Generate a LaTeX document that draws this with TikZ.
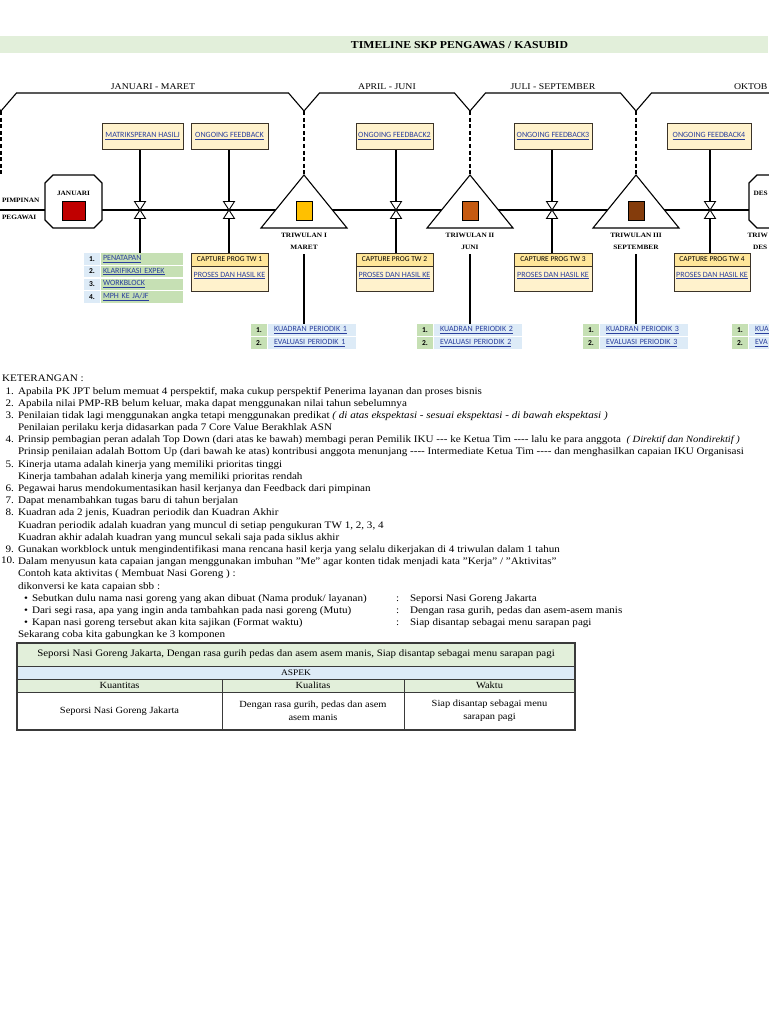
\documentclass[tikz,border=0pt]{standalone}
\usepackage{fontspec}
\setmainfont{Liberation Serif}[FakeStretch=1.11]
\newfontfamily\boxfont{Carlito}
\pgfdeclarelayer{bg}
\pgfdeclarelayer{lines}
\pgfsetlayers{bg,lines,main}
\definecolor{titlegreen}{HTML}{E2EFDA}
\definecolor{boxfill}{HTML}{FFF2CC}
\definecolor{boxhead}{HTML}{FFE699}
\definecolor{linkblue}{HTML}{2A3F9D}
\definecolor{cellgreen}{HTML}{C6E0B4}
\definecolor{cellblue}{HTML}{DDEBF7}
\definecolor{twone}{HTML}{FFC000}
\definecolor{twtwo}{HTML}{C55A11}
\definecolor{twthree}{HTML}{843C0C}
\definecolor{janred}{HTML}{C00000}
\definecolor{gridgray}{HTML}{3A3A3A}
\definecolor{boxline}{HTML}{3B3328}
\newcommand\lnk[1]{\textcolor{linkblue}{\underline{#1}}}
\begin{document}
\begin{tikzpicture}[x=1pt,y=-1pt,
  every node/.style={inner sep=0pt,outer sep=0pt},
  periodlbl/.style={anchor=base, font=\fontsize{8.8}{10}\selectfont},
  twlbl/.style={anchor=base, font=\bfseries\fontsize{6.6}{8}\selectfont},
  bracket/.style={line width=1.1pt, line join=miter},
  mainline/.style={line width=1.4pt},
  dashv/.style={line width=1.5pt, dash pattern=on 4pt off 2.6pt},
  conn/.style={line width=1.4pt},
  shapeline/.style={line width=1.1pt, line join=miter, fill=white},
  tieline/.style={line width=0.9pt, line join=miter, fill=white},
  ybox/.style={draw=boxline, line width=0.8pt, fill=boxfill, anchor=north west, minimum height=26pt},
  boxtxt/.style={anchor=base, font=\boxfont\fontsize{8}{9}\selectfont},
  capbox/.style={draw=boxline, line width=0.8pt, fill=boxfill, anchor=north west, minimum height=38pt},
  caphead/.style={draw=boxline, line width=0.8pt, fill=boxhead, anchor=north west, minimum height=13pt, font=\boxfont\fontsize{7.5}{8}\selectfont},
  numcell/.style={anchor=north west, minimum width=16pt, minimum height=11.5pt, font=\boxfont\bfseries\fontsize{7.5}{8}\selectfont},
  itemcell/.style={anchor=north west, minimum height=11.5pt, align=left, font=\boxfont\fontsize{8}{9}\selectfont},
  sqbox/.style={draw=black, line width=0.8pt, minimum width=16pt, minimum height=19pt},
  bodytxt/.style={anchor=base west, font=\fontsize{10}{12}\selectfont},
  numtxt/.style={anchor=base east, font=\fontsize{10}{12}\selectfont},
  tcell/.style={draw=gridgray, line width=0.7pt, anchor=north west, align=center, font=\fontsize{9.4}{13}\selectfont},
]
\begin{pgfonlayer}{bg}
\fill[white] (0,0) rectangle (768,1024);
\end{pgfonlayer}
\useasboundingbox (0,0) rectangle (768,1024);

% title band
\node[fill=titlegreen, minimum width=768pt, minimum height=16.5pt, anchor=north west] (band) at (0,36.5) {};
\node[anchor=base, font=\bfseries\fontsize{10.6}{12}\selectfont] (title) at (459.5,48.3) {TIMELINE SKP PENGAWAS / KASUBID};

% period labels
\node[periodlbl] (per1) at (153,90) {JANUARI - MARET};
\node[periodlbl] (per2) at (387,90) {APRIL - JUNI};
\node[periodlbl] (per3) at (553,90) {JULI - SEPTEMBER};
\node[periodlbl, anchor=base west] (per4) at (734,90) {OKTOB};

\coordinate (vb0) at (1,111);
\coordinate (vb1) at (304,111);
\coordinate (vb2) at (470,111);
\coordinate (vb3) at (636,111);
\coordinate (lend) at (1,175);
\coordinate (mlstart) at (0,210);
\coordinate (mlend) at (749,210);

% top boxes
\node[ybox, minimum width=81pt] (mat) at (102,123) {};
\node[boxtxt] (matt) at ([yshift=-14.5pt]mat.north) {\lnk{MATRIKSPERAN HASILJ}};
\node[ybox, minimum width=77pt] (fb1) at (191,123) {};
\node[boxtxt] (fb1t) at ([yshift=-14.5pt]fb1.north) {\lnk{ONGOING FEEDBACK}};
\node[ybox, minimum width=77pt] (fb2) at (356,123) {};
\node[boxtxt] (fb2t) at ([yshift=-14.5pt]fb2.north) {\lnk{ONGOING FEEDBACK2}};
\node[ybox, minimum width=78pt] (fb3) at (514,123) {};
\node[boxtxt] (fb3t) at ([yshift=-14.5pt]fb3.north) {\lnk{ONGOING FEEDBACK3}};
\node[ybox, minimum width=84pt] (fb4) at (667,123) {};
\node[boxtxt] (fb4t) at ([yshift=-14.5pt]fb4.north) {\lnk{ONGOING FEEDBACK4}};

% capture boxes
\node[capbox, minimum width=77pt] (cap1) at (191,253) {};
\node[caphead, minimum width=77pt] (cap1h) at (191,253) {CAPTURE PROG TW 1};
\node[boxtxt] (cap1t) at ([yshift=-24pt]cap1.north) {\lnk{PROSES DAN HASIL KE}};
\node[capbox, minimum width=77pt] (cap2) at (356,253) {};
\node[caphead, minimum width=77pt] (cap2h) at (356,253) {CAPTURE PROG TW 2};
\node[boxtxt] (cap2t) at ([yshift=-24pt]cap2.north) {\lnk{PROSES DAN HASIL KE}};
\node[capbox, minimum width=78pt] (cap3) at (514,253) {};
\node[caphead, minimum width=78pt] (cap3h) at (514,253) {CAPTURE PROG TW 3};
\node[boxtxt] (cap3t) at ([yshift=-24pt]cap3.north) {\lnk{PROSES DAN HASIL KE}};
\node[capbox, minimum width=76pt] (cap4) at (674,253) {};
\node[caphead, minimum width=76pt] (cap4h) at (674,253) {CAPTURE PROG TW 4};
\node[boxtxt] (cap4t) at ([yshift=-24pt]cap4.north) {\lnk{PROSES DAN HASIL KE}};

% left octagon
\filldraw[shapeline] (45,183) -- (53,175) -- (94,175) -- (102,183) -- (102,220) -- (94,228) -- (53,228) -- (45,220) -- cycle;
\node[twlbl] (jant) at (73.5,196) {JANUARI};
\node[sqbox, fill=janred, minimum width=23pt] (jansq) at (73.5,210.5) {};
\node[twlbl, anchor=base west] (pimp) at (2,203) {PIMPINAN};
\node[twlbl, anchor=base west] (peg) at (2,220) {PEGAWAI};

% triangles
\foreach \cx/\col/\la/\lb [count=\i] in {304/twone/TRIWULAN I/MARET, 470/twtwo/TRIWULAN II/JUNI, 636/twthree/TRIWULAN III/SEPTEMBER} {
  \filldraw[shapeline] (\cx-43,228) -- (\cx,175) coordinate (apex\i) -- (\cx+43,228) -- cycle;
  \node[sqbox, fill=\col] (tsq\i) at (\cx,210.5) {};
  \node[twlbl] (twa\i) at (\cx,237.5) {\la};
  \node[twlbl] (twb\i) at (\cx,249.5) {\lb};
  \coordinate (twbot\i) at (\cx,254);
}

% right octagon (cut by the page edge)
\filldraw[shapeline] (749,183) -- (757,175) -- (798,175) -- (806,183) -- (806,220) -- (798,228) -- (757,228) -- (749,220) -- cycle;
\node[twlbl, anchor=base west] (dest) at (753.5,196) {DES};
\node[twlbl, anchor=base west] (twa4) at (747.5,237.5) {TRIW};
\node[twlbl, anchor=base west] (twb4) at (753,249.5) {DES};

% valves
\foreach \vx [count=\i] in {140,229,396,552,710} {
  \coordinate (v\i) at (\vx,210);
  \filldraw[tieline] (\vx-5.5,201.5) -- (\vx+5.5,201.5) -- (v\i) -- cycle;
  \filldraw[tieline] (\vx-5.5,218.5) -- (\vx+5.5,218.5) -- (v\i) -- cycle;
}

% left list
\node[numcell, fill=cellblue] (pn1) at (84,253) {1.};
\node[itemcell, fill=cellgreen, minimum width=82pt, text width=78pt] (pt1) at (101,253) {\lnk{PENATAPAN}};
\node[numcell, fill=cellblue] (pn2) at (84,265.8) {2.};
\node[itemcell, fill=cellgreen, minimum width=82pt, text width=78pt] (pt2) at (101,265.8) {\lnk{KLARIFIKASI EXPEK}};
\node[numcell, fill=cellblue] (pn3) at (84,278.6) {3.};
\node[itemcell, fill=cellgreen, minimum width=82pt, text width=78pt] (pt3) at (101,278.6) {\lnk{WORKBLOCK}};
\node[numcell, fill=cellblue] (pn4) at (84,291.4) {4.};
\node[itemcell, fill=cellgreen, minimum width=82pt, text width=78pt] (pt4) at (101,291.4) {\lnk{MPH KE JA/JF}};

% kuadran lists
\foreach \nx [count=\i] in {251,417,583} {
  \node[numcell, fill=cellgreen] (kna\i) at (\nx,324) {1.};
  \node[itemcell, fill=cellblue, minimum width=88pt, text width=76pt] (kta\i) at (\nx+17,324) {\lnk{KUADRAN PERIODIK \i}};
  \node[numcell, fill=cellgreen] (knb\i) at (\nx,337) {2.};
  \node[itemcell, fill=cellblue, minimum width=88pt, text width=76pt] (ktb\i) at (\nx+17,337) {\lnk{EVALUASI PERIODIK \i}};
}
\node[numcell, fill=cellgreen] (kna4) at (732,324) {1.};
\node[itemcell, fill=cellblue, minimum width=88pt, text width=76pt] (kta4) at (749,324) {\lnk{KUA}};
\node[numcell, fill=cellgreen] (knb4) at (732,337) {2.};
\node[itemcell, fill=cellblue, minimum width=88pt, text width=76pt] (ktb4) at (749,337) {\lnk{EVA}};

% connectors
\begin{pgfonlayer}{lines}
\draw[mainline] (mlstart) -- (mlend);
\draw[bracket] (-14.5,93) -- (vb0) -- (16.5,93) -- (288.5,93) -- (vb1) -- (319.5,93) -- (454.5,93) -- (vb2) -- (485.5,93) -- (620.5,93) -- (vb3) -- (651.5,93) -- (800,93);
\draw[dashv] (vb0) -- (lend);
\draw[dashv] (vb1) -- (apex1);
\draw[dashv] (vb2) -- (apex2);
\draw[dashv] (vb3) -- (apex3);
\draw[conn] (mat.south -| v1) -- (pn1.north -| v1);
\draw[conn] (fb1.south -| v2) -- (cap1.north -| v2);
\draw[conn] (fb2.south -| v3) -- (cap2.north -| v3);
\draw[conn] (fb3.south -| v4) -- (cap3.north -| v4);
\draw[conn] (fb4.south -| v5) -- (cap4.north -| v5);
\draw[conn] (twbot1) -- (twbot1 |- kna1.north);
\draw[conn] (twbot2) -- (twbot2 |- kna2.north);
\draw[conn] (twbot3) -- (twbot3 |- kna3.north);
\end{pgfonlayer}

% notes
\node[bodytxt] (ket) at (2,381.8) {KETERANGAN :};
\node[numtxt] (n1) at (14,394.0) {1.};
\node[bodytxt] (l1) at (18,394.0) {Apabila PK JPT belum memuat 4 perspektif, maka cukup perspektif Penerima layanan dan proses bisnis};
\node[numtxt] (n2) at (14,406.2) {2.};
\node[bodytxt] (l2) at (18,406.2) {Apabila nilai PMP-RB belum keluar, maka dapat menggunakan nilai tahun sebelumnya};
\node[numtxt] (n3) at (14,418.4) {3.};
\node[bodytxt] (l3) at (18,418.4) {Penilaian tidak lagi menggunakan angka tetapi menggunakan predikat \textit{( di atas ekspektasi - sesuai ekspektasi - di bawah ekspektasi )}};
\node[bodytxt] (l3b) at (18,430.6) {Penilaian perilaku kerja didasarkan pada 7 Core Value Berakhlak ASN};
\node[numtxt] (n4) at (14,442.8) {4.};
\node[bodytxt] (l4) at (18,442.8) {Prinsip pembagian peran adalah Top Down (dari atas ke bawah) membagi peran Pemilik IKU -{}-{}- ke Ketua Tim -{}-{}-{}- lalu ke para anggota \ \textit{\fontsize{9.5}{12}\selectfont( Direktif dan Nondirektif )}};
\node[bodytxt] (l4b) at (18,454.9) {Prinsip penilaian adalah Bottom Up (dari bawah ke atas) kontribusi anggota menunjang -{}-{}-{}- Intermediate Ketua Tim -{}-{}-{}- dan menghasilkan capaian IKU Organisasi};
\node[numtxt] (n5) at (14,467.1) {5.};
\node[bodytxt] (l5) at (18,467.1) {Kinerja utama adalah kinerja yang memiliki prioritas tinggi};
\node[bodytxt] (l5b) at (18,479.3) {Kinerja tambahan adalah kinerja yang memiliki prioritas rendah};
\node[numtxt] (n6) at (14,491.5) {6.};
\node[bodytxt] (l6) at (18,491.5) {Pegawai harus mendokumentasikan hasil kerjanya dan Feedback dari pimpinan};
\node[numtxt] (n7) at (14,503.7) {7.};
\node[bodytxt] (l7) at (18,503.7) {Dapat menambahkan tugas baru di tahun berjalan};
\node[numtxt] (n8) at (14,515.9) {8.};
\node[bodytxt] (l8) at (18,515.9) {Kuadran ada 2 jenis, Kuadran periodik dan Kuadran Akhir};
\node[bodytxt] (l8b) at (18,528.1) {Kuadran periodik adalah kuadran yang muncul di setiap pengukuran TW 1, 2, 3, 4};
\node[bodytxt] (l8c) at (18,540.3) {Kuadran akhir adalah kuadran yang muncul sekali saja pada siklus akhir};
\node[numtxt] (n9) at (14,552.5) {9.};
\node[bodytxt] (l9) at (18,552.5) {Gunakan workblock untuk mengindentifikasi mana rencana hasil kerja yang selalu dikerjakan di 4 triwulan dalam 1 tahun};
\node[numtxt] (n10) at (15,563.5) {10.};
\node[bodytxt] (l10) at (18,564.7) {Dalam menyusun kata capaian jangan menggunakan imbuhan "Me" agar konten tidak menjadi kata "Kerja" / "Aktivitas"};
\node[bodytxt] (l10b) at (18,576.8) {Contoh kata aktivitas ( Membuat Nasi Goreng ) :};
\node[bodytxt] (l10c) at (18,589.0) {dikonversi ke kata capaian sbb :};
\node[bodytxt] (bu1) at (24,601.2) {•};
\node[bodytxt] (b1) at (32,601.2) {Sebutkan dulu nama nasi goreng yang akan dibuat (Nama produk/ layanan)};
\node[bodytxt] (bu2) at (24,613.4) {•};
\node[bodytxt] (b2) at (32,613.4) {Dari segi rasa, apa yang ingin anda tambahkan pada nasi goreng (Mutu)};
\node[bodytxt] (bu3) at (24,625.6) {•};
\node[bodytxt] (b3) at (32,625.6) {Kapan nasi goreng tersebut akan kita sajikan (Format waktu)};
\node[bodytxt] (c1) at (396,601.2) {:};
\node[bodytxt] (r1) at (410,601.2) {Seporsi Nasi Goreng Jakarta};
\node[bodytxt] (c2) at (396,613.4) {:};
\node[bodytxt] (r2) at (410,613.4) {Dengan rasa gurih, pedas dan asem-asem manis};
\node[bodytxt] (c3) at (396,625.6) {:};
\node[bodytxt] (r3) at (410,625.6) {Siap disantap sebagai menu sarapan pagi};
\node[bodytxt] (l11) at (18,637.8) {Sekarang coba kita gabungkan ke 3 komponen};

% table
\node[tcell, fill=titlegreen, minimum width=558pt, minimum height=23pt, font=\fontsize{9.8}{12}\selectfont] (trow1) at (17,643) {Seporsi Nasi Goreng Jakarta, Dengan rasa gurih pedas dan asem asem manis, Siap disantap sebagai menu sarapan pagi};
\node[tcell, fill=cellblue, minimum width=558pt, minimum height=13pt, font=\fontsize{8.5}{10}\selectfont] (trow2) at (17,666) {ASPEK};
\node[tcell, fill=titlegreen, minimum width=205pt, minimum height=13pt] (th1) at (17,679) {Kuantitas};
\node[tcell, fill=titlegreen, minimum width=182pt, minimum height=13pt] (th2) at (222,679) {Kualitas};
\node[tcell, fill=titlegreen, minimum width=171pt, minimum height=13pt] (th3) at (404,679) {Waktu};
\node[tcell, fill=white, minimum width=205pt, minimum height=38pt] (td1) at (17,692) {Seporsi Nasi Goreng Jakarta};
\node[tcell, fill=white, minimum width=182pt, minimum height=38pt] (td2) at (222,692) {Dengan rasa gurih, pedas dan asem\\asem manis};
\node[tcell, fill=white, minimum width=171pt, minimum height=38pt] (td3) at (404,692) {Siap disantap sebagai menu\\sarapan pagi};
\draw[gridgray, line width=1.3pt] (trow1.north west) rectangle (td3.south east);
\end{tikzpicture}
\end{document}
